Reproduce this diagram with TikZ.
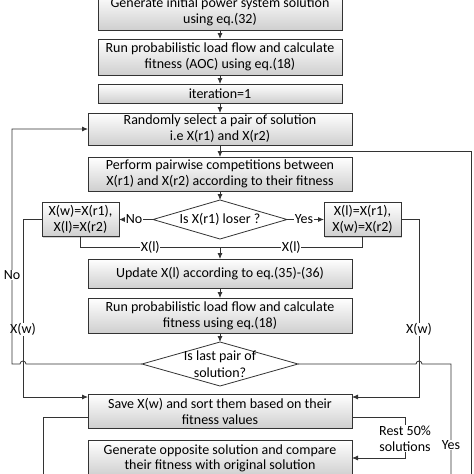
\documentclass[tikz,border=0pt]{standalone}
\usepackage{fontspec}
\setmainfont{Carlito}
\usetikzlibrary{positioning}
\usetikzlibrary{calc,arrows.meta}
\usetikzlibrary{shapes.geometric,shadows}
\definecolor{fc-line}{HTML}{333333}
\definecolor{fc-box}{HTML}{CFCFCF}

\begin{document}
\begin{tikzpicture}[
    x=1pt, y=-1pt, % measured in pixels of the figure, y downwards
    node distance=9pt,
    font=\fontsize{14}{16}\selectfont,
    line width=0.8pt,
    >={Latex[length=6pt,width=5pt]}
  ]

  \tikzset{
    proc/.style={draw=fc-line, top color=white, bottom color=fc-box, drop shadow={shadow xshift=1pt, shadow yshift=-1pt, opacity=0.35}, minimum width=264pt, minimum height=34pt, inner xsep=2pt, inner ysep=0pt, outer sep=0pt, align=center},
    narrow/.style={proc, minimum width=244pt},
    pick/.style={proc, minimum width=77pt},
    decision/.style={diamond, draw=fc-line, fill=white, inner sep=0pt, outer sep=0pt},
    flow/.style={draw=fc-line},
    tag/.style={fill=white, inner sep=0.5pt}
  }

  \path[use as bounding box, fill=white] (0,0) rectangle (474,474);
  \clip (0,0) rectangle (474,474);

  % main column
  \node (gen)   [narrow, minimum height=36pt] at (220,12) {Generate initial power system solution\\using eq.(32)};
  \node (plf)   [narrow, minimum height=36pt, below=of gen] {Run probabilistic load flow and calculate\\fitness (AOC) using eq.(18)};
  \node (iter)  [narrow, minimum height=19pt, below=of plf] {iteration=1};
  \node (sel)   [proc, minimum height=32pt, below=10pt of iter] {Randomly select a pair of solution\\i.e X(r1) and X(r2)};
  \node (comp)  [proc, below=12pt of sel] {Perform pairwise competitions between\\X(r1) and X(r2) according to their fitness};
  \node (loser) [decision, minimum width=134pt, minimum height=39pt, below=of comp, label=center:{Is X(r1) loser ?}] {};
  \node (lbox)  [pick, left=34pt of loser] {X(w)=X(r1),\\X(l)=X(r2)};
  \node (rbox)  [pick, right=37pt of loser] {X(l)=X(r1),\\X(w)=X(r2)};
  \node (upd)   [proc, minimum height=29pt, below=20pt of loser] {Update X(l) according to eq.(35)-(36)};
  \node (plf2)  [proc, minimum height=35pt, below=10pt of upd] {Run probabilistic load flow and calculate\\fitness using eq.(18)};
  \node (last)  [decision, minimum width=156pt, minimum height=44pt, below=of plf2, label={[align=center, font=\fontsize{14}{17}\selectfont]center:Is last pair of\\solution?}] {};
  \node (save)  [proc, below=8pt of last] {Save X(w) and sort them based on their\\fitness values};
  \node (opp)   [proc, minimum height=36pt, font=\fontsize{14}{15}\selectfont, below=12pt of save] {Generate opposite solution and compare\\their fitness with original solution};

  % side lanes and joints
  \coordinate (noL)   at (12,0);
  \coordinate (wL)    at (23,0);
  \coordinate (restL) at (405,0);
  \coordinate (wR)    at (419,0);
  \coordinate (yesL)  at (451,0);
  \coordinate (bestend) at (43,490);
  \coordinate (yesend)  at (451,490);
  \coordinate (backend) at (471,490);
  \coordinate (jn)   at ($(sel.south)!0.5!(comp.north)$);
  \coordinate (jx)   at ([yshift=12pt]upd.north);
  \coordinate (swin) at ([yshift=-3pt]save.north west);
  \coordinate (sein) at ([yshift=-3pt]save.north east);
  \coordinate (sw)   at ([yshift=-6pt]save.west);
  \coordinate (se)   at ([yshift=-6pt]save.east);

  % straight connections
  \draw[->, flow] (gen) -- (plf);
  \draw[->, flow] (plf) -- (iter);
  \draw[->, flow] (iter) -- (sel);
  \draw[->, flow] (sel) -- (comp);
  \draw[->, flow] (comp) -- (loser);
  \draw[->, flow] (upd) -- (plf2);
  \draw[->, flow] (plf2) -- (last);

  % winner / loser split
  \draw[->, flow] (loser.west) -- node[tag, pos=0.56] {No} (lbox.east);
  \draw[->, flow] (loser.east) -- node[tag, pos=0.46] {Yes} (rbox.west);
  \draw[flow] (lbox.south) |- node[tag, pos=0.75] {X(l)} (jx);
  \draw[flow] (rbox.south) |- node[tag, pos=0.75] {X(l)} (jx);
  \draw[->, flow] (jx) -- (upd.north);
  \draw[->, flow] (lbox.west) -- (lbox.west -| wL) -- node[tag, pos=0.62] {X(w)} (swin -| wL) -- (swin);
  \draw[->, flow] (rbox.east) -- (rbox.east -| wR) -- node[tag, pos=0.62] {X(w)} (sein -| wR) -- (sein);

  % loops
  \draw[->, flow] (last.west) -- ([xshift=3pt]last.west -| wL) arc[start angle=0, end angle=180, radius=3pt]
    -- (last.west -| noL) -- node[tag, pos=0.38] {No} (sel.west -| noL) -- (sel.west);
  \draw[flow] (last.east) -- ([xshift=-3pt]last.east -| wR) arc[start angle=180, end angle=0, radius=3pt]
    -- (last.east -| yesL) -- node[tag, pos=0.64] {Yes} (yesend);
  \draw[flow] (backend) |- (jn);

  % after sorting
  \draw[flow] (sw) -| (bestend);
  \draw[->, flow] (se) -| node[tag, align=center, pos=0.76] {Rest 50\%\\solutions} (opp.east -| restL) -- (opp.east);

\end{tikzpicture}
\end{document}
